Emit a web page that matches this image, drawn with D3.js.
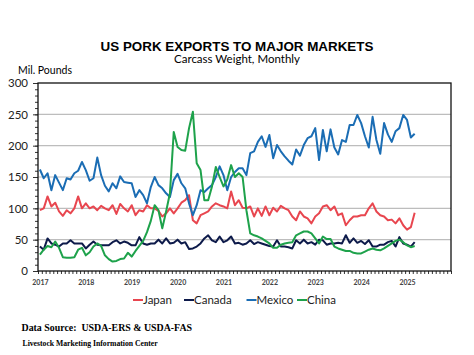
<!DOCTYPE html>
<html>
<head>
<meta charset="utf-8">
<script src="https://cdn.jsdelivr.net/npm/d3@7"></script>
<style>
  html, body { margin: 0; padding: 0; background: #fff; }
  svg { display: block; }
</style>
</head>
<body>
<svg id="chart" width="474" height="355"></svg>
<script>
// ---- Data (monthly, Jan 2017 – Mar 2025, million pounds carcass weight) ----
const startYear = 2017;
const yearLabels = ["2017","2018","2019","2020","2021","2022","2023","2024","2025"];
const yTicks = [0, 50, 100, 150, 200, 250, 300];
const seriesNames = ["Japan", "Canada", "Mexico", "China"];
const seriesColors = ["#e8464f", "#0d1a4a", "#1b6db4", "#1ea24b"];

const japan = [
  97,100,119,103,109,95,88,97,92,100,119,100,
  108,100,103,97,104,100,97,105,91,107,100,95,
  105,89,97,95,105,100,100,96,87,92,100,92,
  100,109,113,121,81,76,89,92,95,103,108,105,
  103,100,127,105,113,101,100,103,87,100,88,103,
  89,101,95,104,100,97,87,81,95,87,84,76,
  87,92,103,105,97,103,89,92,73,81,87,87,
  89,89,100,108,95,89,87,81,82,76,84,73,
  66,70,93
];
const canada = [
  39,34,52,44,42,39,44,44,49,44,44,44,
  36,42,47,42,41,41,41,46,49,44,47,45,
  41,41,54,44,42,44,44,50,44,52,44,45,
  50,44,46,35,36,39,44,52,57,49,46,55,
  46,49,55,44,45,42,44,49,43,46,44,42,
  40,39,49,39,39,38,36,49,44,50,44,46,
  42,50,49,42,44,44,45,44,57,45,52,45,
  48,43,49,39,39,42,42,46,48,39,54,44,
  42,39,46
];
const mexico = [
  162,148,156,129,153,141,129,148,146,156,160,174,
  161,144,148,181,153,136,127,140,132,151,142,141,
  140,118,129,121,108,134,150,137,132,124,118,145,
  155,140,132,108,89,105,129,126,132,137,150,167,
  153,129,150,158,164,164,153,188,191,206,215,198,
  217,180,201,191,183,176,170,194,184,201,212,215,
  228,177,225,191,226,197,186,209,206,233,233,249,
  236,215,197,246,209,187,236,218,206,223,228,249,
  241,213,219
];
const china = [
  26,34,40,38,47,37,22,21,21,22,34,37,
  25,30,39,44,40,25,19,15,16,19,20,29,
  23,32,40,48,62,80,105,97,68,95,124,222,
  198,193,192,228,254,172,161,113,113,135,166,150,
  135,146,169,150,156,150,97,60,57,55,52,48,
  44,37,37,42,44,45,46,57,60,63,63,60,
  52,44,55,51,51,39,36,34,32,32,29,28,
  28,31,34,36,34,33,36,40,44,48,50,46,
  41,38,40
];
const seriesValues = [japan, canada, mexico, china];

// ---- Layout ----
const svg = d3.select("#chart");
const pLeft = 38, pRight = 451, pTop = 83, pBottom = 271;
const nMonths = yearLabels.length * 12;

const x = d3.scaleLinear().domain([0, nMonths]).range([pLeft, pRight]);
const y = d3.scaleLinear().domain([0, 300]).range([pBottom, pTop]);
const xp = i => x(i + 0.5);

const calibri = "Lato, 'Open Sans', sans-serif";

// Title
svg.append("text").attr("x", 237).attr("y", 50.5).attr("text-anchor", "middle")
  .attr("font-family", "'Liberation Sans', Arial, sans-serif").attr("font-weight", "bold")
  .attr("font-size", 13.4).attr("fill", "#000").text("US PORK EXPORTS TO MAJOR MARKETS");
svg.append("text").attr("x", 237).attr("y", 63).attr("text-anchor", "middle")
  .attr("font-family", calibri).attr("font-size", 11.5).attr("fill", "#000")
  .text("Carcass Weight, Monthly");
svg.append("text").attr("x", 18).attr("y", 74)
  .attr("font-family", calibri).attr("font-size", 10.5).attr("fill", "#000")
  .text("Mil. Pounds");

// Gridlines
svg.append("g").selectAll("line").data(yTicks.filter(v => v > 0 && v < 300)).join("line")
  .attr("x1", pLeft).attr("x2", pRight)
  .attr("y1", d => y(d)).attr("y2", d => y(d))
  .attr("stroke", "#bdbdbd").attr("stroke-width", 1.2);

// Y axis minor ticks
const yMinor = d3.axisLeft(y).tickValues(d3.range(0, 301, 10)).tickSize(3).tickFormat("");
svg.append("g").attr("transform", `translate(${pLeft},0)`).call(yMinor)
  .call(g => g.select(".domain").remove())
  .call(g => g.selectAll("line").attr("stroke", "#333"));
// Y axis major
const yAxis = d3.axisLeft(y).tickValues(yTicks).tickSize(5).tickPadding(5);
svg.append("g").attr("transform", `translate(${pLeft},0)`).call(yAxis)
  .call(g => g.select(".domain").remove())
  .call(g => g.selectAll("line").attr("stroke", "#333"))
  .call(g => g.selectAll("text").attr("font-family", calibri).attr("font-size", 11.5).attr("fill", "#222"));

// X axis month ticks
const xMinor = d3.axisBottom(x).tickValues(d3.range(0, nMonths + 1)).tickSize(3).tickFormat("");
svg.append("g").attr("transform", `translate(0,${pBottom})`).call(xMinor)
  .call(g => g.select(".domain").remove())
  .call(g => g.selectAll("line").attr("stroke", "#333"));
// X year labels at January points
const xLab = d3.axisBottom(x).tickValues(yearLabels.map((_, k) => k * 12 + 0.5))
  .tickSize(0).tickPadding(9).tickFormat((d, k) => yearLabels[k]);
svg.append("g").attr("transform", `translate(0,${pBottom})`).call(xLab)
  .call(g => g.select(".domain").remove())
  .call(g => g.selectAll("text").attr("font-family", calibri).attr("font-weight", "bold")
    .attr("font-size", 7).attr("fill", "#444"));

// Frame
svg.append("rect").attr("x", pLeft).attr("y", pTop).attr("width", pRight - pLeft).attr("height", pBottom - pTop)
  .attr("fill", "none").attr("stroke", "#111").attr("stroke-width", 1.3);

// Lines
const line = d3.line().x((d, i) => xp(i)).y(d => y(d));
svg.append("g").selectAll("path").data(seriesValues).join("path")
  .attr("d", d => line(d)).attr("fill", "none")
  .attr("stroke", (d, k) => seriesColors[k]).attr("stroke-width", 2)
  .attr("stroke-linejoin", "round");

// Legend
const legendX = [133, 184, 246.5, 297];
const lg = svg.append("g").selectAll("g").data(seriesNames).join("g")
  .attr("transform", (d, k) => `translate(${legendX[k]},300)`);
lg.append("line").attr("x1", 0).attr("x2", 10).attr("y1", 0).attr("y2", 0)
  .attr("stroke", (d, k) => seriesColors[k]).attr("stroke-width", 2);
lg.append("text").attr("x", 10).attr("y", 4).attr("font-family", calibri)
  .attr("font-size", 11.5).attr("fill", "#222").text(d => d);

// Footer
svg.append("text").attr("x", 21.5).attr("y", 331)
  .attr("font-family", "'Liberation Serif', 'Times New Roman', serif").attr("font-weight", "bold")
  .attr("font-size", 9.9).attr("fill", "#000").attr("xml:space", "preserve")
  .text("Data Source:  USDA-ERS & USDA-FAS");
svg.append("text").attr("x", 22.5).attr("y", 345.5)
  .attr("font-family", "'Liberation Serif', 'Times New Roman', serif").attr("font-weight", "bold")
  .attr("font-size", 7.7).attr("fill", "#000")
  .text("Livestock Marketing Information Center");
</script>
</body>
</html>
